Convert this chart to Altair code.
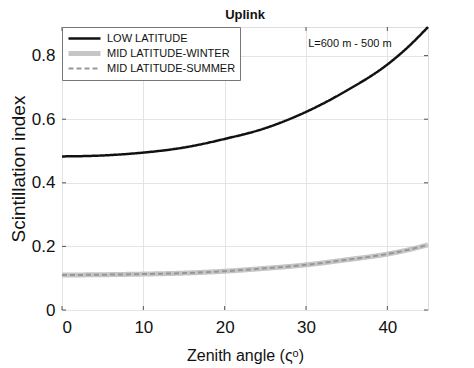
import altair as alt
import pandas as pd

angles = [0, 5, 10, 15, 20, 25, 30, 35, 40, 42.5, 45]
low_lat = [0.483, 0.486, 0.495, 0.511, 0.538, 0.572, 0.623, 0.690, 0.772, 0.826, 0.890]
mid_winter = [0.110, 0.111, 0.113, 0.116, 0.122, 0.131, 0.142, 0.158, 0.176, 0.189, 0.205]
mid_summer = [0.110, 0.111, 0.113, 0.116, 0.122, 0.131, 0.142, 0.158, 0.176, 0.189, 0.205]

series_names = ["LOW LATITUDE", "MID LATITUDE-WINTER", "MID LATITUDE-SUMMER"]
series_values = [low_lat, mid_winter, mid_summer]
x_ticks = [0, 10, 20, 30, 40]
y_ticks = [0, 0.2, 0.4, 0.6, 0.8]
chart_title = "Uplink"

rows = []
for order, (name, vals) in enumerate(zip(series_names, series_values)):
    for a, v in zip(angles, vals):
        rows.append({"angle": a, "si": v, "series": name, "ord": order})
df = pd.DataFrame(rows)

FONT = "Liberation Sans"
W, H = 366, 283
TICK = 4

x_scale = alt.Scale(domain=[0, 45], nice=False)
y_scale = alt.Scale(domain=[0, 0.89], nice=False)

lines = alt.Chart(df).mark_line(interpolate="monotone").encode(
    x=alt.X("angle:Q", scale=x_scale,
            axis=alt.Axis(values=x_ticks, title="Zenith angle (ςᵒ)", format="d",
                          labelFontSize=17, titleFontSize=16, labelPadding=9,
                          titlePadding=12, ticks=False, domain=False,
                          gridColor="#e4e4e4", labelColor="#111", titleColor="#111",
                          titleFontWeight="normal")),
    y=alt.Y("si:Q", scale=y_scale,
            axis=alt.Axis(values=y_ticks, title="Scintillation index", format="~g",
                          labelFontSize=17, titleFontSize=19, labelPadding=7,
                          titlePadding=3, ticks=False, domain=False,
                          gridColor="#e4e4e4", labelColor="#111", titleColor="#111",
                          titleFontWeight="normal")),
    color=alt.Color("series:N",
                    scale=alt.Scale(domain=series_names, range=["#111111", "#c6c6c6", "#979797"]),
                    legend=alt.Legend(title=None, orient="none", legendX=0, legendY=0,
                                      symbolType="stroke", symbolSize=1024, clipHeight=15,
                                      labelFontSize=11, labelFont=FONT, labelColor="#111",
                                      padding=4, rowPadding=0, labelOffset=4,
                                      strokeColor="#777", fillColor="white")),
    strokeWidth=alt.StrokeWidth("series:N",
                                scale=alt.Scale(type="ordinal", domain=series_names, range=[2.5, 5, 2]),
                                legend=None),
    strokeDash=alt.StrokeDash("series:N",
                              scale=alt.Scale(domain=series_names, range=[[1, 0], [1, 0], [5, 3]]),
                              legend=None),
    detail="ord:O",
)

yt = pd.DataFrame({"v": y_ticks})
xt = pd.DataFrame({"v": x_ticks})
tick_color = "#555"
left_ticks = alt.Chart(yt).mark_rule(color=tick_color, strokeWidth=1).encode(
    y=alt.Y("v:Q", scale=y_scale), x=alt.value(0), x2=alt.value(TICK))
right_ticks = alt.Chart(yt).mark_rule(color=tick_color, strokeWidth=1).encode(
    y=alt.Y("v:Q", scale=y_scale), x=alt.value(W - TICK), x2=alt.value(W))
bottom_ticks = alt.Chart(xt).mark_rule(color=tick_color, strokeWidth=1).encode(
    x=alt.X("v:Q", scale=x_scale), y=alt.value(H - TICK), y2=alt.value(H))
top_ticks = alt.Chart(xt).mark_rule(color=tick_color, strokeWidth=1).encode(
    x=alt.X("v:Q", scale=x_scale), y=alt.value(0), y2=alt.value(TICK))

annot = alt.Chart(pd.DataFrame({"t": ["L=600 m - 500 m"], "x": [35.4], "y": [0.837]})).mark_text(
    fontSize=11, font=FONT, color="#111"
).encode(x=alt.X("x:Q", scale=x_scale), y=alt.Y("y:Q", scale=y_scale), text="t:N")

title_text = alt.Chart(pd.DataFrame({"t": [chart_title]})).mark_text(
    fontSize=13, font=FONT, fontWeight="bold", color="#111", baseline="bottom", align="center"
).encode(x=alt.value(W / 2), y=alt.value(-5), text="t:N")

chart = alt.layer(left_ticks, right_ticks, bottom_ticks, top_ticks, lines, annot, title_text).properties(
    width=W, height=H,
    autosize=alt.AutoSizeParams(type="none"),
    padding={"left": 54, "top": 19, "right": 38, "bottom": 58},
).configure_view(stroke="#555", strokeWidth=1).configure(font=FONT)

chart.save("out.html", embed_options={"renderer": "svg", "actions": False})
